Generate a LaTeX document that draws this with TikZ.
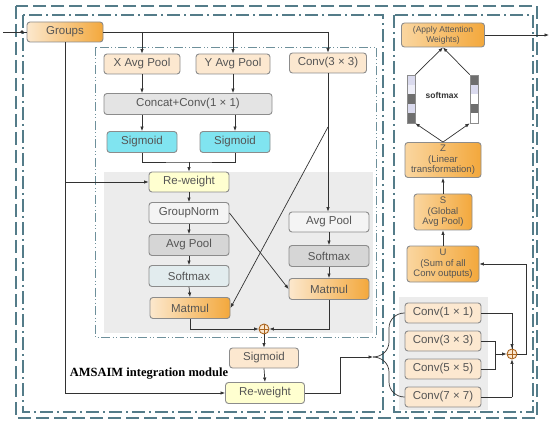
\documentclass[tikz,border=0pt]{standalone}
\usepackage{fontspec}
\setmainfont{Liberation Sans}
\newfontfamily\labelserif{Liberation Serif}
\usetikzlibrary{arrows.meta}
\definecolor{dashc}{RGB}{84,124,137}
\definecolor{boxc}{RGB}{140,140,140}
\definecolor{txtc}{RGB}{85,85,85}
\definecolor{linec}{RGB}{50,50,50}
\definecolor{peach}{RGB}{252,232,208}
\definecolor{orl}{RGB}{252,232,205}
\definecolor{ord}{RGB}{243,168,60}
\definecolor{orm}{RGB}{250,214,160}
\definecolor{cyanf}{RGB}{128,228,240}
\definecolor{yelf}{RGB}{255,255,208}
\definecolor{grayA}{RGB}{228,228,228}
\definecolor{grayB}{RGB}{244,244,244}
\definecolor{grayC}{RGB}{214,214,214}
\definecolor{blueg}{RGB}{226,236,238}
\definecolor{regionc}{RGB}{236,236,236}
\definecolor{lavA}{RGB}{218,218,238}
\definecolor{lavB}{RGB}{238,238,248}
\definecolor{darkv}{RGB}{110,110,110}
\definecolor{plusc}{RGB}{170,100,30}
\tikzset{
 box/.style={draw=boxc, line width=0.9pt, rounded corners=3pt, text=txtc, inner sep=0pt, align=center, font=\fontsize{11.5}{13.5}\selectfont, minimum width=80pt, minimum height=20pt},
 grad/.style={box, left color=orl, right color=ord},
 gradB/.style={box, left color=orm, right color=ord, font=\fontsize{9.5}{10.5}\selectfont},
 arr/.style={draw=linec, line width=0.7pt, -{Latex[length=4.5pt,width=3.5pt]}},
 ln/.style={draw=linec, line width=0.7pt},
 osum/.style={circle, draw=plusc, line width=0.9pt, fill=peach, minimum size=10pt, inner sep=0pt, path picture={\draw[plusc, line width=0.8pt] (path picture bounding box.north) -- (path picture bounding box.south) (path picture bounding box.west) -- (path picture bounding box.east);}},
 dashbox/.style={draw=dashc, line width=1.6pt},
 vecbox/.style={draw=boxc, line width=0.6pt, minimum width=8pt, minimum height=48pt, inner sep=0pt},
}
\begin{document}
\begin{tikzpicture}[x=1pt,y=-1pt]
\useasboundingbox (0,0) rectangle (550,428);
% regions
\fill[regionc] (104,172) rectangle (373,333);
\fill[regionc] (399,297) rectangle (488,410);
% borders
\draw[dashbox, dash pattern=on 13pt off 5pt] (16,6) rectangle (537,418);
\draw[dashbox, dash pattern=on 13pt off 4pt on 2pt off 4pt] (23,15) rectangle (383,412);
\draw[dashbox, dash pattern=on 13pt off 4pt on 2pt off 4pt] (394,15) rectangle (533,412);
\draw[draw=dashc!85, line width=0.8pt, dash pattern=on 9pt off 2.5pt on 1pt off 2.5pt on 1pt off 2.5pt] (95,47) rectangle (376,337);

% nodes
\node[grad, minimum width=76pt] (Groups) at (65,32) {Groups};
\node[box, fill=peach, minimum width=76pt] (XAP) at (142,64) {X Avg Pool};
\node[box, fill=peach, minimum width=74pt] (YAP) at (233,64) {Y Avg Pool};
\node[box, fill=peach, minimum width=77pt] (C3top) at (328,63) {Conv(3 × 3)};
\node[box, fill=grayA, minimum width=168pt, minimum height=21pt] (Concat) at (188,104) {Concat+Conv(1 × 1)};
\node[box, fill=cyanf, minimum width=70pt, minimum height=21pt] (SigL) at (142,142) {Sigmoid};
\node[box, fill=cyanf, minimum width=70pt, minimum height=21pt] (SigR) at (235,142) {Sigmoid};
\node[box, fill=yelf] (RW1) at (189,182) {Re-weight};
\node[box, fill=grayB, minimum height=21pt] (GN) at (189,213) {GroupNorm};
\node[box, fill=grayC, minimum height=21pt] (APL) at (189,245) {Avg Pool};
\node[box, fill=blueg, minimum height=21pt] (SML) at (189,276) {Softmax};
\node[grad, minimum height=21pt] (MML) at (190,308) {Matmul};
\node[box, fill=grayB] (APR) at (329,222) {Avg Pool};
\node[box, fill=grayC, minimum height=21pt] (SMR) at (329,256) {Softmax};
\node[grad, minimum height=21pt] (MMR) at (329,289) {Matmul};
\node[osum] (O1) at (264,329) {};
\node[box, fill=peach, minimum width=69pt] (SigB) at (264,358) {Sigmoid};
\node[box, fill=yelf, minimum width=79pt, minimum height=21pt] (RWB) at (265,393) {Re-weight};
\node[font=\labelserif\bfseries\fontsize{12.5}{14}\selectfont, text=black] (lbl) at (149,374) {AMSAIM integration module};

\node[box, fill=peach, minimum width=76pt] (Cv1) at (443,313) {Conv(1 × 1)};
\node[box, fill=peach, minimum width=76pt] (Cv3) at (443,341) {Conv(3 × 3)};
\node[box, fill=peach, minimum width=76pt] (Cv5) at (443,369) {Conv(5 × 5)};
\node[box, fill=peach, minimum width=76pt] (Cv7) at (443,397) {Conv(7 × 7)};
\node[osum] (O2) at (512,354) {};
\node[gradB, minimum width=72pt, minimum height=36pt] (U) at (443,264) {U\\(Sum of all\\Conv outputs)};
\node[gradB, minimum width=58pt, minimum height=36pt] (S) at (443,212) {S\\(Global\\Avg Pool)};
\node[gradB, minimum width=76pt, minimum height=35pt] (Z) at (443,160) {Z\\(Linear\\transformation)};
\node[gradB, minimum width=83pt, minimum height=24pt, font=\fontsize{8.5}{10}\selectfont] (Apply) at (443,35) {(Apply Attention\\Weights)};

% attention vectors
\foreach \c [count=\i from 0] in {lavA,lavB,darkv,lavA,darkv}
  \fill[\c] (407,{75+\i*9.6}) rectangle (415,{75+\i*9.6+9.6});
\foreach \c [count=\i from 0] in {darkv,lavA,white,darkv,white}
  \fill[\c] (470,{75+\i*9.6}) rectangle (478,{75+\i*9.6+9.6});
\node[vecbox] (vecL) at (411,99) {};
\node[vecbox] (vecR) at (474,99) {};
\node[font=\bfseries\fontsize{8.5}{10}\selectfont, text=black!80] (smlab) at (442,95) {softmax};

% input / output
\coordinate (inp) at (3,32);
\draw[ln] (inp) -- (Groups.west);
\fill[linec] (22,32) circle (1.8pt);
\coordinate (outp) at (549,35);
\draw[arr] (Apply.east) -- (outp);

% top connections
\draw[ln] (Groups.east) -- (C3top.north |- Groups.east);
\draw[arr] (C3top.north |- Groups.east) -- (C3top.north);
\draw[arr] (XAP.north |- Groups.east) -- (XAP.north);
\draw[arr] (YAP.north |- Groups.east) -- (YAP.north);
\draw[arr] (XAP.south) -- (XAP.south |- Concat.north);
\draw[arr] (YAP.south) -- (YAP.south |- Concat.north);
\draw[arr] (SigL.north |- Concat.south) -- (SigL.north);
\draw[arr] (SigR.north |- Concat.south) -- (SigR.north);
\coordinate (j) at (189,162);
\draw[ln] (SigL.south) |- (j) -| (SigR.south);
\draw[arr] (j) -- (RW1.north);
\draw[arr] (Groups.south |- RW1.west) -- (RW1.west);
\draw[arr] (Groups.south) |- (RWB.west);

% left column
\draw[arr] (RW1.south) -- (GN.north);
\draw[arr] (GN.south) -- (APL.north);
\draw[arr] (APL.south) -- (SML.north);
\draw[arr] (SML.south) -- (MML.north);
% right column
\coordinate (br) at (328,127);
\draw[ln] (C3top.south) -- (br);
\draw[arr] (br) -- (br |- APR.north);
\draw[arr] (br) -- (MML.east);
\draw[arr] (GN.east) -- (MMR.west);
\draw[arr] (APR.south) -- (SMR.north);
\draw[arr] (SMR.south) -- (MMR.north);
% sum
\draw[arr] (MML.south) |- (O1.west);
\draw[arr] (MMR.south) |- (O1.east);
\draw[arr] (O1.south) -- (SigB.north);
\draw[arr] (SigB.south) -- (RWB.north);

% to SK branch
\coordinate (sp) at (373,357);
\draw[arr] (RWB.east) -- (340,393) -- (340,357) -- (sp);
\draw[ln] (sp) to[out=0,in=-90] (389,342) -- (389,328) to[out=90,in=180] (Cv1.west);
\draw[ln] (sp) to[out=0,in=90] (389,372) -- (389,382) to[out=-90,in=180] (Cv7.west);
\draw[ln] (Cv1.east) -| (O2.north);
\draw[arr] (O2.north |- Cv1.east) -- (O2.north);
\draw[ln] (Cv3.east) -- (495,341) -- (495,369) -- (Cv5.east);
\draw[arr] (495,354) -- (O2.west);
\draw[arr] (O2.south |- Cv7.east) -- (O2.south);
\draw[ln] (Cv7.east) -- (O2.south |- Cv7.east);
\draw[arr] (O2.east) -- (526,354) -- (526,264) -- (U.east);

% right column
\draw[arr] (U.north) -- (S.south);
\draw[arr] (S.north) -- (Z.south);
\draw[arr] (Z.north) -- (vecL.south east);
\draw[arr] (Z.north) -- (vecR.south west);
\draw[arr] (vecL.north east) -- (Apply.south);
\draw[arr] (vecR.north west) -- (Apply.south);
\end{tikzpicture}
\end{document}
